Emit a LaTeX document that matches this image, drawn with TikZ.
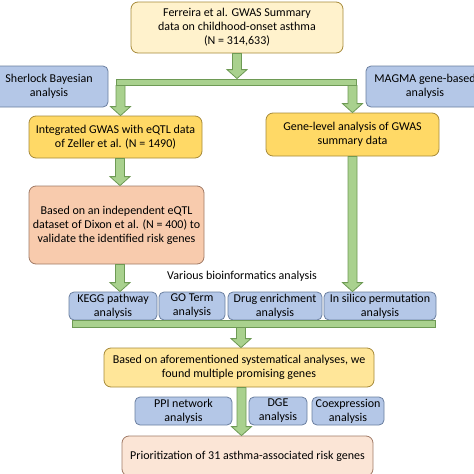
\documentclass[tikz,border=0pt]{standalone}
\usepackage{fontspec}
\setmainfont{Carlito}
\usetikzlibrary{calc}

\definecolor{paleyellow}{HTML}{FFF2CC}
\definecolor{gold}{HTML}{FFD966}
\definecolor{salmon}{HTML}{F8CBAD}
\definecolor{paleblue}{HTML}{B4C7E7}
\definecolor{midyellow}{HTML}{FFE699}
\definecolor{palepink}{HTML}{FBE5D6}
\definecolor{leafgreen}{HTML}{A9D18E}
\definecolor{leafline}{HTML}{6E9A55}
\definecolor{goldline}{HTML}{A68A3A}
\definecolor{blueline}{HTML}{6A7FA0}
\definecolor{salmonline}{HTML}{A07A66}

% block arrow pointing down, from #1 to #2
\newcommand\fatarrow[2]{%
  \filldraw[fill=leafgreen,draw=leafline,line width=.8pt,line join=miter]
    let \p1=(#1), \p2=(#2) in
    ({\x1-4.5pt},\y1) -- ({\x1-4.5pt},{\y2+9pt}) -- ({\x1-10pt},{\y2+9pt}) -- (\x1,\y2)
    -- ({\x1+10pt},{\y2+9pt}) -- ({\x1+4.5pt},{\y2+9pt}) -- ({\x1+4.5pt},\y1) -- cycle;}

\begin{document}
\begin{tikzpicture}
  [x=1pt,y=-1pt,every node/.style={font=\fontsize{12}{14}\selectfont,align=center,inner sep=2pt}]
  \tikzstyle{box} = [draw,rounded corners=7pt,line width=.8pt]
  \tikzstyle{source} = [box,fill=paleyellow,draw=goldline]
  \tikzstyle{stage} = [box,fill=gold,draw=goldline]
  \tikzstyle{check} = [box,fill=salmon,draw=salmonline]
  \tikzstyle{method} = [box,rounded corners=5pt,fill=paleblue,draw=blueline]
  \tikzstyle{merge} = [box,fill=midyellow,draw=goldline]
  \tikzstyle{result} = [box,fill=palepink,draw=salmonline]
  \tikzstyle{bar} = [draw=leafline,fill=leafgreen,line width=.8pt,inner sep=0pt]
  \useasboundingbox (0,0) rectangle (474,474);

  \node[source,minimum width=212pt,minimum height=51pt] (ferreira) at (237,27.5)
    {Ferreira et al. GWAS Summary\\data on childhood-onset asthma\\(N = 314,633)};
  \node[bar,minimum width=240pt,minimum height=6pt] (splitbar) at (236,82) {};
  \node[method,minimum width=118pt,minimum height=41pt] (sherlock) at (49,86.5)
    {Sherlock Bayesian\\analysis};
  \node[method,minimum width=118pt,minimum height=41pt] (magma) at (425,86.5)
    {MAGMA gene-based\\analysis};
  \node[stage,minimum width=173pt,minimum height=42pt] (zeller) at (115.5,137)
    {Integrated GWAS with eQTL data\\of Zeller et al. (N = 1490)};
  \node[stage,minimum width=173pt,minimum height=43pt] (genelevel) at (352.5,134.5)
    {Gene-level analysis of GWAS\\summary data};
  \node[check,minimum width=175pt,minimum height=78pt] (dixon) at (116.5,225)
    {Based on an independent eQTL\\dataset of Dixon et al. (N = 400) to\\validate the identified risk genes};
  \node (various) at (242,276) {Various bioinformatics analysis};

  \foreach \name/\x/\w/\txt in {kegg/113/88/KEGG pathway,goterm/192/66/GO Term,
      drug/275/94/Drug enrichment,silico/380/112/In silico permutation}
    \node[method,minimum width=\w pt,minimum height=28pt,inner sep=1pt] (\name) at (\x,306)
      {\txt\\analysis};
  \node[bar,minimum width=363pt,minimum height=7pt] (joinbar) at (253.5,323.5) {};

  \node[merge,minimum width=270pt,minimum height=39pt] (promising) at (239,367.5)
    {Based on aforementioned systematical analyses, we\\found multiple promising genes};
  \foreach \name/\x/\w/\txt in {ppi/183.5/97/PPI network,dge/278/58/DGE,coexp/348/72/Coexpression}
    \node[method,minimum width=\w pt,minimum height=28pt,inner sep=1pt] (\name) at (\x,411)
      {\txt\\analysis};
  \node[result,minimum width=251pt,minimum height=40pt] (risk) at (247.5,456)
    {Prioritization of 31 asthma-associated risk genes};

  \foreach \a/\b in {ferreira.south/ferreira.south |- splitbar.north,
      [xshift=5pt]zeller.north |- splitbar.south/[xshift=5pt]zeller.north,
      genelevel.north |- splitbar.south/genelevel.north,
      [xshift=4.5pt]zeller.south/[xshift=4.5pt]zeller.south |- dixon.north,
      [xshift=3.5pt]dixon.south/[xshift=3.5pt]dixon.south |- kegg.north,
      genelevel.south/genelevel.south |- silico.north,
      [xshift=2pt]promising.north |- joinbar.south/[xshift=2pt]promising.north,
      [xshift=2.5pt]promising.south/[xshift=2.5pt]promising.south |- risk.north}
    {\edef\next{\noexpand\fatarrow{\a}{\b}}\next}
\end{tikzpicture}
\end{document}
